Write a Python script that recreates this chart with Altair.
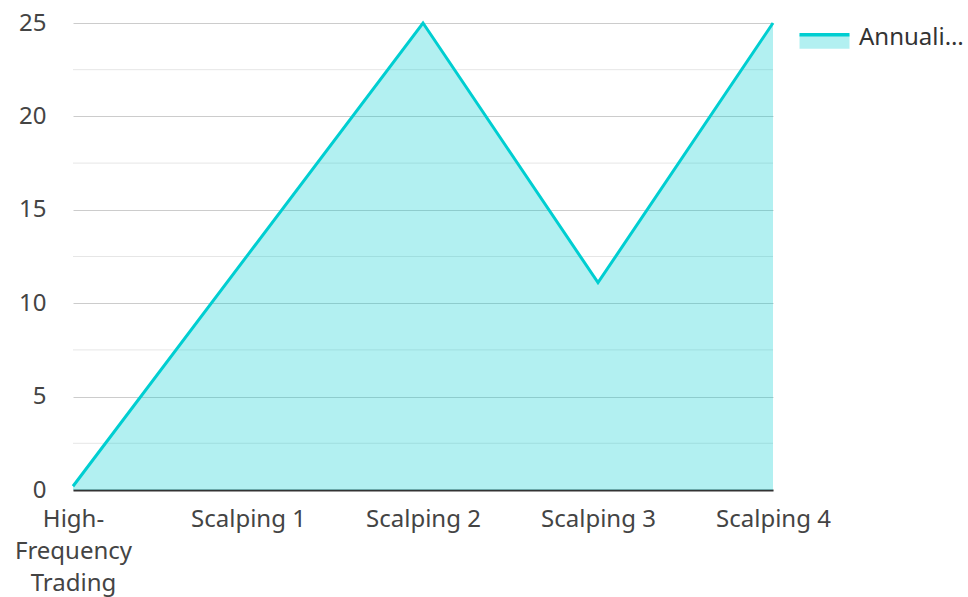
import altair as alt
import pandas as pd

categories = ["High-Frequency Trading", "Scalping 1", "Scalping 2", "Scalping 3", "Scalping 4"]
values = [0.2, 12.6, 25.0, 11.1, 25.0]
series_name = "Annualized Return (%)"
minor_grid = [2.5, 7.5, 12.5, 17.5, 22.5]
major_ticks = [0, 5, 10, 15, 20, 25]

df = pd.DataFrame({"category": categories, "value": values, "series": [series_name] * len(categories)})
minor_df = pd.DataFrame({"value": minor_grid})

FONT = "Noto Sans"
FS = 24
LINE = "#00CED1"
FILL = "rgba(0,206,209,0.3)"

x_enc = alt.X(
    "category:N",
    sort=categories,
    scale=alt.Scale(type="point", padding=0),
    axis=alt.Axis(
        title=None,
        labelAngle=0,
        labelFontSize=FS,
        labelFont=FONT,
        labelColor="#444444",
        labelPadding=17,
        labelLineHeight=32,
        labelExpr="datum.label == 'High-Frequency Trading' ? ['High-', 'Frequency', 'Trading'] : datum.label",
        ticks=False,
        domain=True,
        domainColor="#333333",
        domainWidth=2,
        grid=False,
        labelOverlap=False,
    ),
)
y_scale = alt.Scale(domain=[0, 25], nice=False)
y_axis = alt.Axis(
    title=None,
    values=major_ticks,
    labelFontSize=FS,
    labelFont=FONT,
    labelColor="#444444",
    labelPadding=27,
    ticks=False,
    domain=False,
    grid=True,
    gridColor="#cccccc",
    gridWidth=1,
)
y_enc = alt.Y("value:Q", scale=y_scale, axis=y_axis)

minor = alt.Chart(minor_df).mark_rule(color="#e6e6e6", strokeWidth=1).encode(y=y_enc)

legend = alt.Legend(
    title=None,
    orient="right",
    offset=31,
    padding=0,
    symbolType="M-2,-0.22 L2,-0.22 L2,0.9 L-2,0.9 Z",
    symbolSize=625,
    symbolStrokeWidth=3.5,
    symbolDash=[50, 300],
    symbolFillColor=FILL,
    labelFontSize=FS,
    labelFont=FONT,
    labelColor="#333333",
    labelLimit=112,
    labelOffset=20,
)

area = alt.Chart(df).mark_area(color=FILL).encode(x=x_enc, y=y_enc)
line = alt.Chart(df).mark_line(strokeWidth=3).encode(
    x=x_enc,
    y=y_enc,
    stroke=alt.Stroke("series:N", scale=alt.Scale(range=[LINE]), legend=legend),
)

chart = (
    alt.layer(minor, area, line)
    .properties(
        width=700,
        height=467,
        autosize=alt.AutoSizeParams(type="none"),
        padding={"left": 73, "top": 23, "right": 195, "bottom": 107},
        background="white",
    )
    .configure_view(stroke=None)
)

chart.save("out.html", embed_options={"renderer": "svg", "actions": False})
